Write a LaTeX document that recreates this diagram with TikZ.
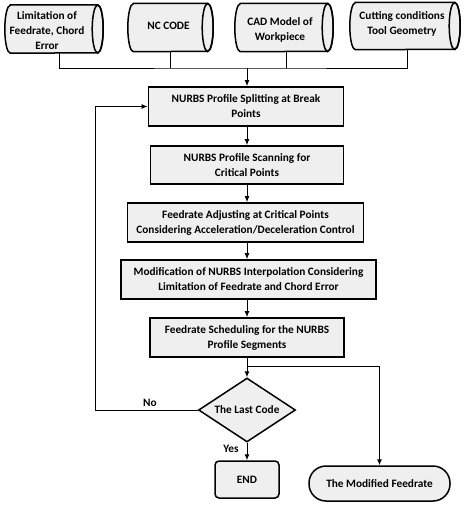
\documentclass[tikz,border=0pt]{standalone}
\usepackage{fontspec}
\setmainfont{Carlito}
\usetikzlibrary{shapes.geometric,arrows.meta}
\definecolor{boxfill}{HTML}{EFEFEF}
\tikzset{
  every node/.style={font=\bfseries\fontsize{11.3}{15}\selectfont, align=center, inner sep=1pt},
  cylbox/.style={rectangle, draw=none, inner sep=0pt},
  cylline/.style={draw=black, line width=1.5pt, fill=boxfill},
  procbox/.style={rectangle, draw, line width=1.7pt, fill=boxfill, minimum height=39pt},
  decision/.style={diamond, draw, line width=1.5pt, fill=boxfill, minimum width=97pt, minimum height=64pt, aspect=1.5, inner sep=0pt},
  endbox/.style={rectangle, rounded corners=4pt, draw, line width=1.5pt, fill=boxfill, minimum width=64pt, minimum height=37pt},
  termbox/.style={rectangle, rounded corners=17pt, draw, line width=1.5pt, fill=boxfill, minimum width=141pt, minimum height=35pt},
  conn/.style={line width=1pt},
  arr/.style={line width=1pt, -{Latex[length=6pt,width=5pt]}},
  lbl/.style={fill=none, draw=none}
}
\newcommand\drawcyl[2]{%
  \path[cylline] ([xshift=5.5pt]#1.north west) -- ([xshift=-5.5pt]#1.north east)
    arc[start angle=90, end angle=-90, x radius=5.5pt, y radius=#2pt]
    -- ([xshift=5.5pt]#1.south west)
    arc[start angle=270, end angle=90, x radius=5.5pt, y radius=#2pt] -- cycle;
  \draw[line width=1.5pt] ([xshift=-5.5pt]#1.east) ellipse[x radius=5.5pt, y radius=#2pt];}
\begin{document}
\begin{tikzpicture}[x=1pt,y=-1pt]
\useasboundingbox (0,0) rectangle (474,509);
% input cylinders
\node[cylbox, minimum width=98pt, minimum height=48pt] (c1) at (54,29) {};
\node[cylbox, minimum width=85pt, minimum height=48pt] (c2) at (170.5,27.5) {};
\node[cylbox, minimum width=98pt, minimum height=48pt] (c3) at (284,27.5) {};
\node[cylbox, minimum width=110pt, minimum height=47pt] (c4) at (405,26) {};
\drawcyl{c1}{24}
\drawcyl{c2}{24}
\drawcyl{c3}{24}
\drawcyl{c4}{23.5}
\node (c1t) at ([xshift=-7pt,yshift=-2pt]c1.center) {Limitation of\\Feedrate, Chord\\Error};
\node (c2t) at ([xshift=-2pt,yshift=1.5pt]c2.center) {NC CODE};
\node (c3t) at ([xshift=-4pt,yshift=-2.5pt]c3.center) {CAD Model of\\Workpiece};
\node (c4t) at ([xshift=-3pt,yshift=2pt]c4.center) {Cutting conditions\\Tool Geometry};
\coordinate (bus) at (247,68);
% process boxes
\node[procbox, minimum width=195pt] (b1) at (246,106.5) {NURBS Profile Splitting at Break\\Points};
\node[procbox, minimum width=193pt, minimum height=38pt] (b2) at (247,165) {NURBS Profile Scanning for\\Critical Points};
\node[procbox, minimum width=236pt] (b3) at (245.5,222.5) {Feedrate Adjusting at Critical Points\\Considering Acceleration/Deceleration Control};
\node[procbox, minimum width=255pt] (b4) at (248.5,279.5) {Modification of NURBS Interpolation Considering\\Limitation of Feedrate and Chord Error};
\node[procbox, minimum width=194pt] (b5) at (247,337.5) {Feedrate Scheduling for the NURBS\\Profile Segments};
\node[decision] (d) at (247,410) {The Last Code};
\node[endbox] (e) at (247,479.5) {END};
\node[termbox] (mf) at (379.5,483.5) {The Modified Feedrate};
\coordinate (split) at (247,366);
\coordinate (loopx) at (95,410);
% connectors
\draw[conn] ([xshift=5pt]c1.south) |- (bus) -| ([xshift=2pt]c4.south);
\draw[conn] (c2.south) -- (c2.south |- bus);
\draw[conn] ([xshift=2pt]c3.south) -- ([xshift=2pt]c3.south |- bus);
\draw[arr] (bus) -- (bus |- b1.north);
\draw[arr] (b1.south -| b2.north) -- (b2.north);
\draw[arr] (b2.south) -- (b2.south |- b3.north);
\draw[arr] (b3.south -| b2.south) -- (b2.south |- b4.north);
\draw[arr] (b4.south -| b5.north) -- (b5.north);
\draw[arr] (b5.south) -- (d.north);
\draw[arr] (split) -| (mf.north);
\draw[arr] (d.west) -- (loopx) |- (b1.west);
\draw[arr] (d.south) -- (e.north);
\node[lbl] (no) at (150,403) {No};
\node[lbl] (yes) at (231,449) {Yes};
\end{tikzpicture}
\end{document}
